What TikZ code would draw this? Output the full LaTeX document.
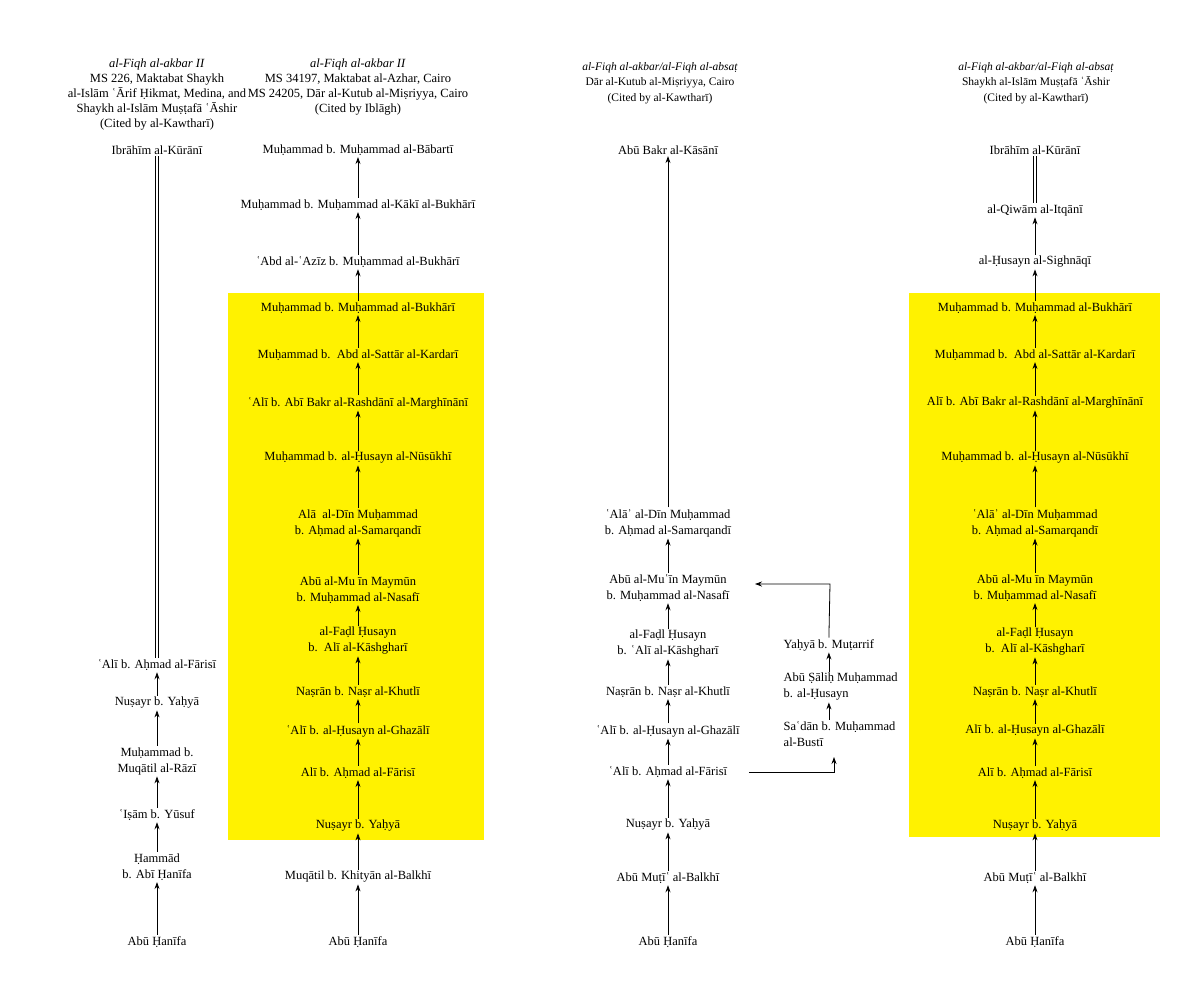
\documentclass[tikz,border=0pt]{standalone}
\usepackage{fontspec}
\setmainfont{Liberation Serif}
\usetikzlibrary{arrows.meta}
\definecolor{yel}{HTML}{FFF200}
\begin{document}
\begin{tikzpicture}[x=1pt,y=-1pt,
  n/.style={inner sep=1.5pt,align=center,font=\fontsize{12.5}{16}\selectfont},
  nl/.style={n,align=left,anchor=west},
  hd/.style={inner sep=0pt,align=center,font=\fontsize{12.5}{15}\selectfont},
  hs/.style={inner sep=0pt,align=center,font=\fontsize{11.5}{15.5}\selectfont},
  ar/.style={-{Stealth[length=7pt,width=5pt]},line width=0.8pt},
  dbl/.style={double,double distance=2.5pt,line width=0.7pt}]
\useasboundingbox (0,0) rectangle (1200,999);
\fill[yel] (228,293) rectangle (484,840);
\fill[yel] (909,293) rectangle (1160,837);
% headers
\node[hd] (h1) at (157,95) {\textit{al-Fiqh al-akbar II}\\MS 226, Maktabat Shaykh\\al-Islām ʿĀrif Ḥikmat, Medina, and\\Shaykh al-Islām Muṣṭafā ʿĀshir\\(Cited by al-Kawtharī)};
\node[hd] (h2) at (358,87) {\textit{al-Fiqh al-akbar II}\\MS 34197, Maktabat al-Azhar, Cairo\\MS 24205, Dār al-Kutub al-Miṣriyya, Cairo\\(Cited by Iblāgh)};
\node[hs] (h3) at (660,83) {\textit{al-Fiqh al-akbar/al-Fiqh al-absaṭ}\\Dār al-Kutub al-Miṣriyya, Cairo\\(Cited by al-Kawtharī)};
\node[hs] (h4) at (1036,83) {\textit{al-Fiqh al-akbar/al-Fiqh al-absaṭ}\\Shaykh al-Islām Muṣṭafā ʿĀshir\\(Cited by al-Kawtharī)};
% column 1
\node[n] (a1) at (157,150) {Ibrāhīm al-Kūrānī};
\node[n] (a2) at (157,665) {ʿAlī b. Aḥmad al-Fārisī};
\node[n] (a3) at (157,703) {Nuṣayr b. Yaḥyā};
\node[n] (a4) at (157,761) {Muḥammad b.\\Muqātil al-Rāzī};
\node[n] (a5) at (157,815) {ʿIṣām b. Yūsuf};
\node[n] (a6) at (157,867) {Ḥammād\\b. Abī Ḥanīfa};
\node[n] (a7) at (157,942) {Abū Ḥanīfa};
\draw[dbl] (a1) -- (a2);
\foreach \u/\v in {a7/a6,a6/a5,a5/a4,a4/a3,a3/a2} \draw[ar] (\u) -- (\v);
% column 2
\node[n] (b1) at (358,150) {Muḥammad b. Muḥammad al-Bābartī};
\node[n] (b2) at (358,205) {Muḥammad b. Muḥammad al-Kākī al-Bukhārī};
\node[n] (b3) at (358,262) {ʿAbd al-ʿAzīz b. Muḥammad al-Bukhārī};
\node[n] (b4) at (358,308) {Muḥammad b. Muḥammad al-Bukhārī};
\node[n] (b5) at (358,355) {Muḥammad b.\ \ Abd al-Sattār al-Kardarī};
\node[n] (b6) at (358,403) {ʿAlī b. Abī Bakr al-Rashdānī al-Marghīnānī};
\node[n] (b7) at (358,458) {Muḥammad b. al-Ḥusayn al-Nūsūkhī};
\node[n] (b8) at (358,523) {Alā\ \ al-Dīn Muḥammad\\b. Aḥmad al-Samarqandī};
\node[n] (b9) at (358,590) {Abū al-Mu\ īn Maymūn\\b. Muḥammad al-Nasafī};
\node[n] (b10) at (358,641) {al-Faḍl Ḥusayn\\b.\ \ Alī al-Kāshgharī};
\node[n] (b11) at (358,692) {Naṣrān b. Naṣr al-Khutlī};
\node[n] (b12) at (358,731) {ʿAlī b. al-Ḥusayn al-Ghazālī};
\node[n] (b13) at (358,773) {Alī b. Aḥmad al-Fārisī};
\node[n] (b14) at (358,826) {Nuṣayr b. Yaḥyā};
\node[n] (b15) at (358,877) {Muqātil b. Khityān al-Balkhī};
\node[n] (b16) at (358,942) {Abū Ḥanīfa};
\foreach \i [evaluate=\i as \j using int(\i-1)] in {2,...,16} \draw[ar] (b\i) -- (b\j);
% column 3
\node[n] (c1) at (668,150) {Abū Bakr al-Kāsānī};
\node[n] (c2) at (668,523) {ʿAlāʾ al-Dīn Muḥammad\\b. Aḥmad al-Samarqandī};
\node[n] (c3) at (668,588) {Abū al-Muʿīn Maymūn\\b. Muḥammad al-Nasafī};
\node[n] (c4) at (668,644) {al-Faḍl Ḥusayn\\b. ʿAlī al-Kāshgharī};
\node[n] (c5) at (668,692) {Naṣrān b. Naṣr al-Khutlī};
\node[n] (c6) at (668,731) {ʿAlī b. al-Ḥusayn al-Ghazālī};
\node[n] (c7) at (668,772) {ʿAlī b. Aḥmad al-Fārisī};
\node[n] (c8) at (668,825) {Nuṣayr b. Yaḥyā};
\node[n] (c9) at (668,878) {Abū Muṭīʿ al-Balkhī};
\node[n] (c10) at (668,942) {Abū Ḥanīfa};
\foreach \i [evaluate=\i as \j using int(\i-1)] in {2,...,10} \draw[ar] (c\i) -- (c\j);
\node[nl] (s1) at (782,645) {Yaḥyā b. Muṭarrif};
\node[nl] (s2) at (782,687) {Abū Ṣāliḥ Muḥammad\\b. al-Ḥusayn};
\node[nl] (s3) at (782,734) {Saʿdān b. Muḥammad\\al-Bustī};
\draw[ar] (s3.north-|s1) -- (s2.south-|s1);
\draw[ar] (s2.north-|s1) -- (s1.south);
\coordinate (k1) at (834,772);
\draw[ar] (c7.east)+(20,0) -- (k1) -- (834,757);
\coordinate (k2) at (830,584);
\draw[ar] (s1.north) -- (k2) -- (755,584);
% column 4
\node[n] (d1) at (1035,150) {Ibrāhīm al-Kūrānī};
\node[n] (d2) at (1035,210) {al-Qiwām al-Itqānī};
\node[n] (d3) at (1035,262) {al-Ḥusayn al-Sighnāqī};
\node[n] (d4) at (1035,308) {Muḥammad b. Muḥammad al-Bukhārī};
\node[n] (d5) at (1035,355) {Muḥammad b.\ \ Abd al-Sattār al-Kardarī};
\node[n] (d6) at (1035,403) {Alī b. Abī Bakr al-Rashdānī al-Marghīnānī};
\node[n] (d7) at (1035,458) {Muḥammad b. al-Ḥusayn al-Nūsūkhī};
\node[n] (d8) at (1035,523) {ʿAlāʾ al-Dīn Muḥammad\\b. Aḥmad al-Samarqandī};
\node[n] (d9) at (1035,588) {Abū al-Mu\ īn Maymūn\\b. Muḥammad al-Nasafī};
\node[n] (d10) at (1035,642) {al-Faḍl Ḥusayn\\b.\ \ Alī al-Kāshgharī};
\node[n] (d11) at (1035,692) {Naṣrān b. Naṣr al-Khutlī};
\node[n] (d12) at (1035,731) {Alī b. al-Ḥusayn al-Ghazālī};
\node[n] (d13) at (1035,773) {Alī b. Aḥmad al-Fārisī};
\node[n] (d14) at (1035,826) {Nuṣayr b. Yaḥyā};
\node[n] (d15) at (1035,878) {Abū Muṭīʿ al-Balkhī};
\node[n] (d16) at (1035,942) {Abū Ḥanīfa};
\draw[dbl] (d1) -- (d2);
\foreach \i [evaluate=\i as \j using int(\i-1)] in {3,...,16} \draw[ar] (d\i) -- (d\j);
\end{tikzpicture}
\end{document}
